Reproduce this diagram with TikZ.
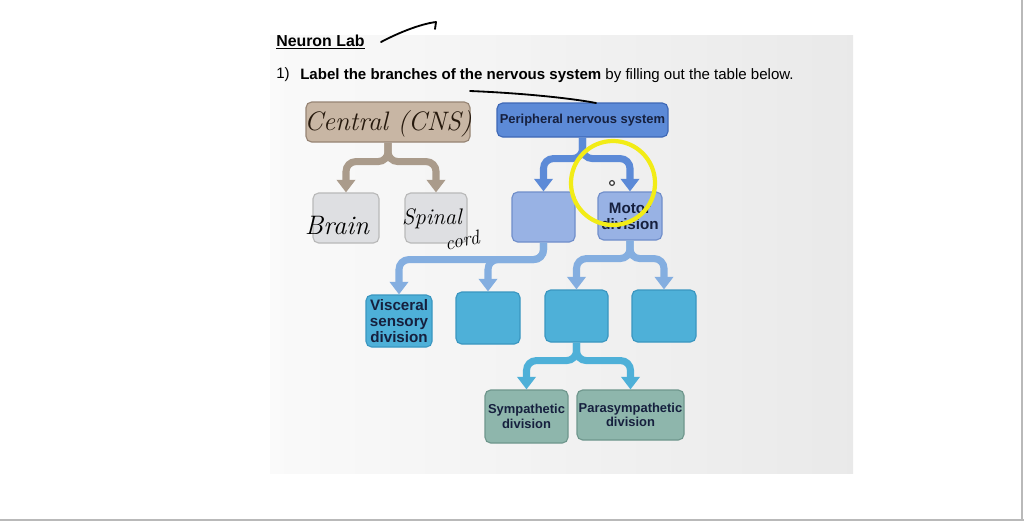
\documentclass[tikz,border=0pt]{standalone}
\usepackage{fontspec}
\setsansfont{Liberation Sans}
\usetikzlibrary{arrows.meta,positioning,calc}
\definecolor{cnsTan}{RGB}{200,182,164}
\definecolor{cnsEdge}{RGB}{150,132,116}
\definecolor{cnsLeaf}{RGB}{222,223,226}
\definecolor{pnsBlue}{RGB}{92,138,215}
\definecolor{pnsEdge}{RGB}{62,104,182}
\definecolor{divBlue}{RGB}{152,178,228}
\definecolor{divEdge}{RGB}{112,142,202}
\definecolor{divArrow}{RGB}{132,174,224}
\definecolor{subCyan}{RGB}{78,176,216}
\definecolor{subEdge}{RGB}{58,150,192}
\definecolor{autTeal}{RGB}{142,182,172}
\definecolor{autEdge}{RGB}{110,150,140}
\definecolor{inkNavy}{RGB}{22,32,62}
\definecolor{hiYellow}{RGB}{242,236,22}
\newcommand{\pxu}{0.025cm}
\newcommand{\hand}{\rmfamily\itshape}
\tikzset{
  box/.style={rounded corners=4pt, line width=0.8pt, inner sep=0pt, align=center,
    text=inkNavy, font=\sffamily\bfseries\fontsize{9.2}{10.2}\selectfont},
  bigtext/.style={font=\sffamily\bfseries\fontsize{10.8}{11.6}\selectfont},
  cnsbox/.style={box, draw=cnsEdge, fill=cnsTan},
  leafbox/.style={box, draw=gray!55, fill=cnsLeaf},
  pnsbox/.style={box, draw=pnsEdge, fill=pnsBlue},
  divbox/.style={box, draw=divEdge, fill=divBlue},
  subbox/.style={box, draw=subEdge, fill=subCyan},
  autbox/.style={box, draw=autEdge, fill=autTeal},
  branch/.style={line width=5pt, rounded corners=7pt,
    -{Triangle[length=9pt,width=13pt]}},
  pen/.style={line width=1.3pt, line cap=round, line join=round},
}
\begin{document}
\begin{tikzpicture}[x=\pxu, y=-\pxu]
  \useasboundingbox (0,0) rectangle (1024,522);
  % photographed page
  \shade[left color=gray!4, right color=gray!17] (270,35) rectangle (853,473);
  \draw[gray!55, line width=0.8pt] (0,520) -- (1024,520);
  \draw[gray!55, line width=0.8pt] (1022,0) -- (1022,520);
  % heading and question
  \node[anchor=west, inner sep=0pt, font=\sffamily\bfseries\fontsize{11.3}{13}\selectfont]
    (title) at (276,42) {\underline{Neuron Lab}};
  \node[anchor=west, inner sep=0pt, font=\sffamily\fontsize{10.7}{12}\selectfont]
    (qnum) at (276,75) {1)};
  \node[anchor=west, inner sep=0pt, font=\sffamily\fontsize{10.7}{12}\selectfont]
    (question) at (300,76) {\textbf{Label the branches of the nervous system} by filling out the table below.};
  % top row
  \node[cnsbox, minimum width=164*\pxu, minimum height=40*\pxu] (cns) at (388,122) {};
  \node[pnsbox, minimum width=171*\pxu, minimum height=34*\pxu] (pns) at (582.5,120)
    {Peripheral nervous system};
  % second row
  \node[leafbox, minimum width=66*\pxu, minimum height=50*\pxu] (brain) at (346,218) {};
  \node[leafbox, minimum width=62*\pxu, minimum height=50*\pxu] (spinal) at (436,218) {};
  \node[divbox, minimum width=63*\pxu, minimum height=50*\pxu] (sensory) at (543.5,217) {};
  \node[divbox, bigtext, minimum width=64*\pxu, minimum height=48*\pxu] (motor) at (630,216)
    {Motor\\division};
  % third row
  \node[subbox, bigtext, minimum width=66*\pxu, minimum height=52*\pxu] (visceral) at (399,321)
    {Visceral\\sensory\\division};
  \node[subbox, minimum width=64*\pxu, minimum height=52*\pxu] (somsens) at (488,318) {};
  \node[subbox, minimum width=63*\pxu, minimum height=52*\pxu] (autonomic) at (576.5,316) {};
  \node[subbox, minimum width=64*\pxu, minimum height=52*\pxu] (sommotor) at (664,316) {};
  % fourth row
  \node[autbox, minimum width=83*\pxu, minimum height=53*\pxu] (symp) at (526.5,416.5)
    {Sympathetic\\division};
  \node[autbox, minimum width=107*\pxu, minimum height=50*\pxu] (para) at (630.5,415)
    {Parasympathetic\\division};
  % branching arrows
  \draw[branch, cnsTan!85!black] (cns.south) -- ++(0,19) -| (brain.north);
  \draw[branch, cnsTan!85!black] (cns.south) -- ++(0,19) -| (spinal.north);
  \draw[branch, pnsBlue] (pns.south) -- ++(0,21) -| (sensory.north);
  \draw[branch, pnsBlue] (pns.south) -- ++(0,21) -| (motor.north);
  \draw[branch, divArrow] (sensory.south) -- ++(0,17) -| (visceral.north);
  \draw[branch, divArrow] (sensory.south) -- ++(0,17) -| (somsens.north);
  \draw[branch, divArrow] (motor.south) -- ++(0,18) -| (autonomic.north);
  \draw[branch, divArrow] (motor.south) -- ++(0,18) -| (sommotor.north);
  \draw[branch, subCyan] (autonomic.south) -- ++(0,18) -| (symp.north);
  \draw[branch, subCyan] (autonomic.south) -- ++(0,18) -| (para.north);
  % handwritten answers
  \node[font=\hand\fontsize{19}{20}\selectfont, text=black!80!brown] (cnslabel) at (388,124) {Central (CNS)};
  \node[font=\hand\fontsize{19}{20}\selectfont] (brainlabel) at (337,225) {Brain};
  \node[font=\hand\fontsize{16}{18}\selectfont] (spinallabel) at (432,219) {Spinal};
  \node[font=\hand\fontsize{14}{16}\selectfont, rotate=12] (cordlabel) at (462,240) {cord};
  % pen marks
  \draw[pen] (381,42) .. controls (398,33) and (420,24) .. (436,22) -- (435,29);
  \draw[pen] (470,91) .. controls (520,93) and (570,98) .. (596,103);
  % highlight
  \draw[hiYellow, line width=3pt] (613,183) circle (1.05cm);
  \draw[black!80, line width=0.8pt, fill=white] (612,183) circle (0.06cm);
\end{tikzpicture}
\end{document}
